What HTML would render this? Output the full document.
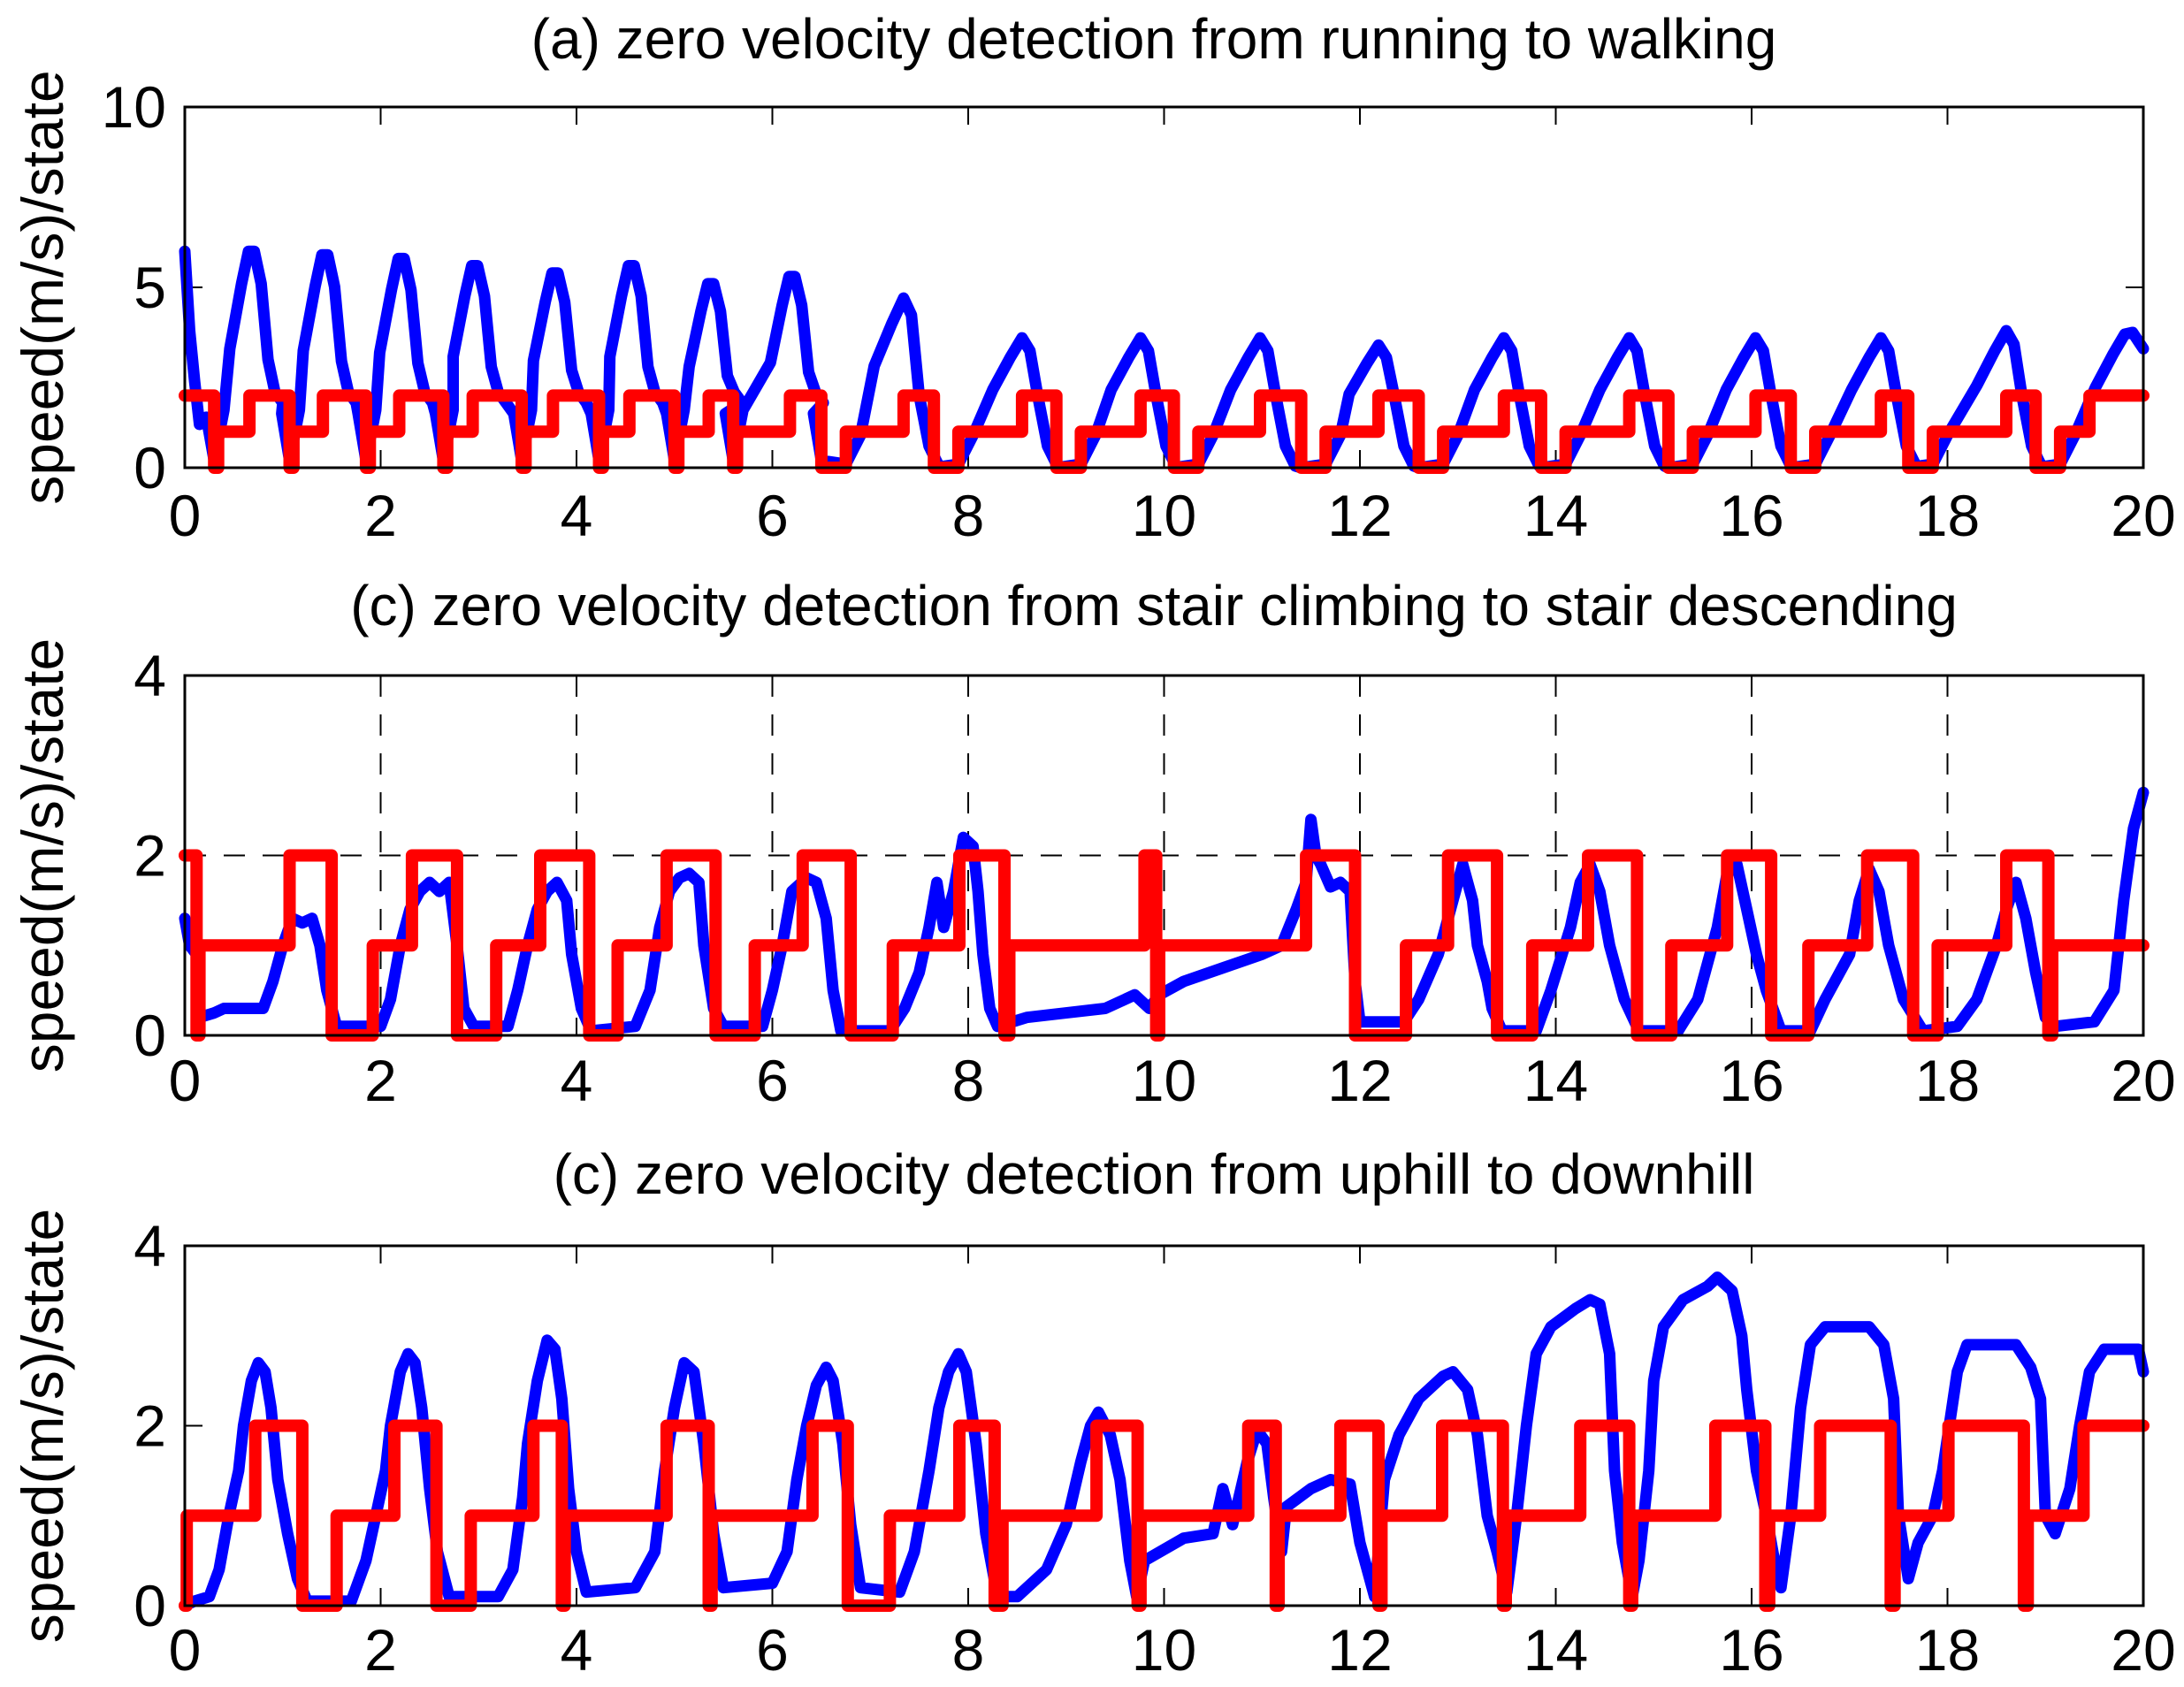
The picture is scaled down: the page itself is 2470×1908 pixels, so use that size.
<!DOCTYPE html>
<html><head><meta charset="utf-8"><style>html,body{margin:0;padding:0;background:#fff}svg{display:block}</style></head>
<body>
<svg id="s" xmlns="http://www.w3.org/2000/svg" width="2470" height="1908" viewBox="0 0 2470 1908" font-family="Liberation Sans, Arial, sans-serif"></svg>
<script>
const S=document.getElementById('s');const L=209,R=2424,W=R-L;
const panels=[{top:121,bot:529,ymax:10,yt:[0,5,10],title:"(a) zero velocity detection from running to walking",ty:44,xl:583,grid:false},
{top:764,bot:1171,ymax:4,yt:[0,2,4],title:"(c) zero velocity detection from  stair climbing to stair descending",ty:685,xl:1222,grid:true},
{top:1409,bot:1816,ymax:4,yt:[0,2,4],title:"(c) zero velocity detection from uphill to downhill",ty:1328,xl:1866,grid:false}];
let h='';
function X(t){return L+t/20*W}
function Yf(p){return v=>p.bot-v/p.ymax*(p.bot-p.top)}
function poly(p,pts,col,w){const Y=Yf(p);return '<polyline fill="none" stroke="'+col+'" stroke-width="'+w+'" stroke-linejoin="round" stroke-linecap="round" points="'+pts.map(q=>X(q[0]).toFixed(1)+','+Y(q[1]).toFixed(1)).join(' ')+'"/>'}
function steps(start,ch){const pts=[[0,start]];let v=start;for(const c of ch){pts.push([c[0],v]);pts.push([c[0],c[1]]);v=c[1];}pts.push([20,v]);return pts}
let b1=[[0,6],[0.05,3.8],[0.1,2.4],[0.15,1.2],[0.22,1.4],[0.3,0.2]],r1ch=[];
const S1=[0.3,1.07,1.85,2.64,3.44,4.23,5.0,5.6,6.5],P1=[0.68,1.43,2.21,2.96,3.78,4.56,5.37,6.2],H1=[6,5.9,5.8,5.6,5.4,5.6,5.1,5.3];
for(let k=0;k<P1.length;k++){const s=S1[k],p=P1[k],hh=H1[k],n=S1[k+1];
 b1.push([s+0.1,1.6],[p-0.22,hh*0.55],[p-0.1,hh*0.85],[p-0.03,hh],[p+0.03,hh],[p+0.1,hh*0.85],[p+0.17,hh*0.5],[p+0.24,2.1],[p+0.32,1.8],[n-0.08,1.5],[n,0.2]);
 r1ch.push([s,0],[s+0.04,1],[p-0.02,2]);}
const S2=[6.5,7.65,8.9,10.1,11.4,12.6,13.85,15.15,16.4,17.6,18.9],P2=[7.34,8.55,9.76,10.98,12.19,13.47,14.75,16.04,17.32,18.6,19.81],H2=[4.7,3.6,3.6,3.6,3.4,3.6,3.6,3.6,3.6,3.8,3.7];
for(let k=0;k<P2.length;k++){const s=S2[k],p=P2[k],hh=H2[k],n=S2[k+1];
 if(k>0){b1.push([s,0])}
 b1.push([s+0.25,0.1],[s+0.4,0.9],[p-0.3,hh*0.6],[p-0.12,hh*0.85],[p,hh]);
 if(n!==undefined){b1.push([p+0.08,hh*0.9],[p+0.16,2.0],[p+0.26,0.6],[p+0.36,0.05]);r1ch.push([s,0],[s+0.25,1],[p,2]);}
 else{b1.push([p+0.08,3.75],[20,3.3]);r1ch.push([s,0],[s+0.25,1],[19.45,2]);}
}
const b2=[[0,1.3],[0.05,1.0],[0.12,0.9],[0.15,0.2],[0.3,0.25],[0.4,0.3],[0.8,0.3],[0.9,0.6],[1.0,1.0],[1.1,1.3],[1.2,1.25],[1.3,1.3],[1.38,1.0],[1.45,0.5],[1.55,0.1],[2.0,0.1],[2.1,0.4],[2.2,1.0],[2.3,1.4],[2.4,1.6],[2.5,1.7],[2.6,1.6],[2.7,1.7],[2.78,1.0],[2.85,0.3],[2.95,0.1],[3.3,0.1],[3.4,0.5],[3.5,1.0],[3.6,1.4],[3.7,1.6],[3.8,1.7],[3.9,1.5],[3.95,0.9],[4.05,0.3],[4.15,0.05],[4.6,0.1],[4.75,0.5],[4.85,1.2],[4.95,1.6],[5.05,1.75],[5.15,1.8],[5.25,1.7],[5.3,1.0],[5.4,0.3],[5.5,0.1],[5.9,0.1],[6.0,0.5],[6.1,1.0],[6.2,1.6],[6.35,1.75],[6.45,1.7],[6.55,1.3],[6.62,0.5],[6.7,0.05],[7.2,0.05],[7.35,0.3],[7.5,0.7],[7.6,1.2],[7.68,1.7],[7.75,1.2],[7.85,1.6],[7.95,2.2],[8.05,2.1],[8.1,1.6],[8.15,0.9],[8.22,0.3],[8.3,0.1],[8.6,0.2],[9.0,0.25],[9.4,0.3],[9.7,0.45],[9.85,0.3],[9.95,0.45],[10.2,0.6],[10.6,0.75],[11.0,0.9],[11.2,1.0],[11.35,1.4],[11.45,1.7],[11.5,2.4],[11.55,2.0],[11.6,1.9],[11.7,1.65],[11.8,1.7],[11.9,1.6],[11.95,0.6],[12.0,0.15],[12.45,0.15],[12.6,0.4],[12.8,0.9],[12.95,1.5],[13.05,1.9],[13.15,1.5],[13.2,1.0],[13.3,0.6],[13.35,0.3],[13.45,0.05],[13.8,0.05],[13.95,0.5],[14.15,1.2],[14.25,1.7],[14.35,1.9],[14.45,1.6],[14.55,1.0],[14.7,0.4],[14.85,0.05],[15.25,0.05],[15.45,0.4],[15.65,1.2],[15.75,1.8],[15.85,1.9],[15.95,1.4],[16.05,0.9],[16.15,0.5],[16.3,0.05],[16.6,0.05],[16.75,0.4],[17.0,0.9],[17.1,1.5],[17.2,1.85],[17.3,1.6],[17.4,1.0],[17.55,0.4],[17.75,0.05],[18.1,0.1],[18.3,0.4],[18.5,1.0],[18.6,1.4],[18.7,1.7],[18.8,1.3],[18.9,0.7],[19.0,0.2],[19.1,0.1],[19.5,0.15],[19.7,0.5],[19.8,1.5],[19.9,2.3],[20,2.7]];
const r2=steps(2,[[0.12,0],[0.15,1],[1.07,2],[1.5,0],[1.92,1],[2.32,2],[2.78,0],[3.18,1],[3.63,2],[4.13,0],[4.42,1],[4.92,2],[5.42,0],[5.82,1],[6.31,2],[6.8,0],[7.23,1],[7.91,2],[8.37,0],[8.42,1],[9.8,2],[9.92,0],[9.95,1],[11.45,2],[11.95,0],[12.47,1],[12.9,2],[13.4,0],[13.76,1],[14.33,2],[14.83,0],[15.18,1],[15.75,2],[16.2,0],[16.58,1],[17.18,2],[17.65,0],[17.9,1],[18.6,2],[19.03,0],[19.07,1]]);
const b3=[[0,0],[0.1,0.05],[0.25,0.1],[0.35,0.4],[0.45,1.0],[0.55,1.5],[0.6,2.0],[0.68,2.5],[0.75,2.7],[0.82,2.6],[0.88,2.2],[0.95,1.4],[1.05,0.8],[1.15,0.3],[1.25,0.05],[1.7,0.05],[1.85,0.5],[1.95,1.0],[2.05,1.5],[2.1,2.0],[2.2,2.6],[2.28,2.8],[2.35,2.7],[2.42,2.2],[2.5,1.3],[2.58,0.6],[2.7,0.1],[3.2,0.1],[3.35,0.4],[3.45,1.2],[3.5,1.8],[3.6,2.5],[3.7,2.95],[3.78,2.85],[3.85,2.3],[3.92,1.3],[4.0,0.6],[4.1,0.15],[4.6,0.2],[4.8,0.6],[4.9,1.5],[5.0,2.2],[5.1,2.7],[5.2,2.6],[5.3,1.8],[5.4,0.8],[5.5,0.2],[6.0,0.25],[6.15,0.6],[6.25,1.4],[6.35,2.0],[6.45,2.45],[6.55,2.65],[6.62,2.5],[6.72,1.8],[6.8,0.9],[6.9,0.2],[7.3,0.15],[7.45,0.6],[7.6,1.5],[7.7,2.2],[7.8,2.6],[7.9,2.8],[7.98,2.6],[8.08,1.8],[8.18,0.8],[8.3,0.1],[8.5,0.1],[8.8,0.4],[9.0,0.9],[9.15,1.6],[9.25,2.0],[9.33,2.15],[9.45,1.9],[9.55,1.4],[9.65,0.5],[9.72,0.1],[9.8,0.5],[10.2,0.75],[10.5,0.8],[10.6,1.3],[10.7,0.9],[10.85,1.6],[10.95,1.95],[11.05,1.8],[11.12,1.2],[11.2,0.6],[11.25,1.1],[11.5,1.3],[11.7,1.4],[11.9,1.35],[12.0,0.7],[12.15,0.1],[12.25,1.4],[12.4,1.9],[12.6,2.3],[12.85,2.55],[12.95,2.6],[13.1,2.4],[13.2,1.9],[13.3,1.0],[13.4,0.6],[13.5,0.15],[13.6,1.0],[13.7,2.0],[13.8,2.8],[13.95,3.1],[14.2,3.3],[14.35,3.4],[14.45,3.35],[14.55,2.8],[14.6,1.5],[14.68,0.7],[14.78,0.1],[14.85,0.5],[14.95,1.5],[15.0,2.5],[15.1,3.1],[15.3,3.4],[15.55,3.55],[15.65,3.65],[15.8,3.5],[15.9,3.0],[15.95,2.4],[16.05,1.5],[16.15,1.0],[16.25,0.4],[16.3,0.2],[16.4,1.0],[16.5,2.2],[16.6,2.9],[16.75,3.1],[17.2,3.1],[17.35,2.9],[17.45,2.3],[17.5,1.0],[17.6,0.3],[17.7,0.7],[17.85,1.0],[17.95,1.5],[18.1,2.6],[18.2,2.9],[18.7,2.9],[18.85,2.65],[18.95,2.3],[19.0,1.0],[19.1,0.8],[19.25,1.3],[19.35,2.0],[19.45,2.6],[19.6,2.85],[19.95,2.85],[20,2.6]];
const r3=steps(0,[[0.02,1],[0.72,2],[1.2,0],[1.55,1],[2.14,2],[2.57,0],[2.92,1],[3.56,2],[3.85,0],[3.88,1],[4.92,2],[5.35,0],[5.38,1],[6.41,2],[6.77,0],[7.2,1],[7.91,2],[8.27,0],[8.35,1],[9.31,2],[9.73,0],[9.76,1],[10.86,2],[11.14,0],[11.17,1],[11.8,2],[12.19,0],[12.22,1],[12.84,2],[13.46,0],[13.49,1],[14.25,2],[14.75,0],[14.78,1],[15.63,2],[16.14,0],[16.18,1],[16.7,2],[17.42,0],[17.46,1],[18.01,2],[18.78,0],[18.82,1],[19.39,2]]);
const data=[[b1,steps(2,r1ch)],[b2,r2],[b3,r3]];
panels.forEach((p,i)=>{const Y=Yf(p);
 if(p.grid){for(let t=2;t<20;t+=2)h+='<line x1="'+X(t)+'" y1="'+p.top+'" x2="'+X(t)+'" y2="'+p.bot+'" stroke="#000" stroke-width="2" stroke-dasharray="24,20"/>';
  h+='<line x1="'+L+'" y1="'+Y(2)+'" x2="'+R+'" y2="'+Y(2)+'" stroke="#000" stroke-width="2" stroke-dasharray="24,20"/>';}
 for(let t=0;t<=20;t+=2){h+='<line x1="'+X(t)+'" y1="'+p.bot+'" x2="'+X(t)+'" y2="'+(p.bot-20)+'" stroke="#000" stroke-width="2"/><line x1="'+X(t)+'" y1="'+p.top+'" x2="'+X(t)+'" y2="'+(p.top+20)+'" stroke="#000" stroke-width="2"/>';
  h+='<text x="'+X(t)+'" y="'+p.xl+'" font-size="66" text-anchor="middle" dominant-baseline="central">'+t+'</text>';}
 p.yt.forEach(v=>{h+='<line x1="'+L+'" y1="'+Y(v)+'" x2="'+(L+20)+'" y2="'+Y(v)+'" stroke="#000" stroke-width="2"/><line x1="'+R+'" y1="'+Y(v)+'" x2="'+(R-20)+'" y2="'+Y(v)+'" stroke="#000" stroke-width="2"/>';
  h+='<text x="188" y="'+Y(v)+'" font-size="66" text-anchor="end" dominant-baseline="central">'+v+'</text>';});
 h+=poly(p,data[i][0],'#0000ff',13);
 h+=poly(p,data[i][1],'#ff0000',14);
 h+='<rect x="'+L+'" y="'+p.top+'" width="'+W+'" height="'+(p.bot-p.top)+'" fill="none" stroke="#000" stroke-width="3"/>';
 h+='<text x="1305" y="'+p.ty+'" font-size="64" text-anchor="middle" dominant-baseline="central">'+p.title+'</text>';
 const cy=(p.top+p.bot)/2;
 h+='<text transform="translate(48,'+cy+') rotate(-90)" font-size="66" text-anchor="middle" dominant-baseline="central">speed(m/s)/state</text>';
});
S.innerHTML=h;
</script>
</body></html>
